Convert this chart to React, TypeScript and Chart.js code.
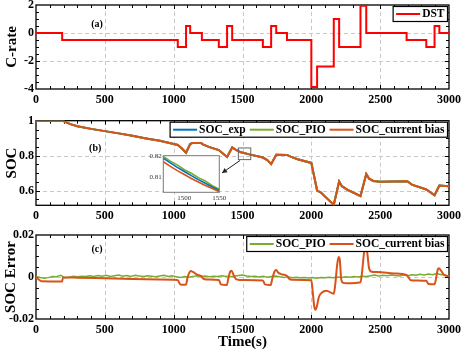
import React, { useEffect, useRef } from "react";
import { Chart, registerables } from "chart.js";
Chart.register(...registerables);

const FONT = '"Liberation Serif", "Times New Roman", Times, serif';
const RED = "#ff0000";
const BLUE = "#0072BD";
const GREEN = "#77AC30";
const ORANGE = "#D95319";

// ---------- tick labels ----------
const X_TICKS = [0, 500, 1000, 1500, 2000, 2500, 3000];
const X_GRID = [500, 1000, 1500, 2000, 2500];
const CRATE_TICKS = [-4, -2, 0, 2];
const SOC_TICKS = [0.6, 0.8, 1];
const ERR_TICKS = [-0.02, 0, 0.02];
const INSET_X_TICKS = [1500, 1550];
const INSET_Y_TICKS = [0.81, 0.82];

// ---------- (a) DST current profile (value holds from time until next time) ----------
const DST_T = [0, 190, 1030, 1090, 1120, 1205, 1328, 1388, 1425, 1648, 1708, 1745, 1823, 2000, 2042, 2163, 2202, 2357, 2399, 2692, 2835, 2895, 2930, 3000];
const DST_V = [0, -0.5, -1, 0.5, 0, -0.5, -1, 0.5, -0.5, -1, 0.5, 0, -0.5, -3.85, -2.4, 1, -1, 1.95, 0, -0.5, -1, 0.5, 0, 0];

// ---------- (b) SOC ----------
const SOC_T = [0, 200, 215, 250, 300, 400, 500, 600, 700, 800, 900, 1000, 1030, 1060, 1090, 1120, 1135, 1200, 1212, 1260, 1328, 1388, 1425, 1450, 1482, 1550, 1648, 1680, 1708, 1745, 1823, 1850, 1900, 2000, 2042, 2070, 2100, 2163, 2202, 2222, 2260, 2300, 2357, 2399, 2420, 2450, 2500, 2692, 2705, 2730, 2835, 2895, 2930, 3000];
const SOC_V = [1.0, 1.0, 0.994, 0.982, 0.970, 0.955, 0.942, 0.929, 0.915, 0.900, 0.886, 0.868, 0.862, 0.842, 0.818, 0.868, 0.873, 0.873, 0.866, 0.850, 0.833, 0.793, 0.848, 0.835, 0.822, 0.808, 0.790, 0.775, 0.752, 0.806, 0.805, 0.795, 0.780, 0.759, 0.600, 0.588, 0.565, 0.518, 0.652, 0.625, 0.605, 0.590, 0.568, 0.695, 0.668, 0.655, 0.650, 0.653, 0.650, 0.634, 0.606, 0.573, 0.629, 0.625];

// ---------- inset (zoom 1470-1550 s) ----------
const INSET_T = [1470, 1480, 1490, 1500, 1510, 1520, 1530, 1540, 1550];
const INSET_EXP = [0.8189, 0.8167, 0.8147, 0.8128, 0.8109, 0.8091, 0.8074, 0.8057, 0.8041];
const INSET_PIO = [0.8197, 0.8175, 0.8158, 0.8136, 0.8120, 0.8100, 0.8085, 0.8063, 0.8047];
const INSET_BIAS = [0.8173, 0.8151, 0.8132, 0.8114, 0.8096, 0.8080, 0.8064, 0.8050, 0.8036];
// zoom box & arrow annotation (data coordinates of panel b)
const ZOOM_BOX_X = [1470, 1560];
const ZOOM_BOX_Y = [0.778, 0.845];
const ARROW_FROM = [1482, 0.773];
const ARROW_TO = [1351, 0.701];

// ---------- (c) SOC error ----------
const ERR_BIAS_T = [0, 20, 40, 190, 196, 300, 500, 700, 1000, 1030, 1045, 1060, 1090, 1100, 1115, 1125, 1140, 1170, 1200, 1215, 1240, 1328, 1343, 1386, 1396, 1410, 1420, 1435, 1450, 1480, 1648, 1663, 1705, 1714, 1732, 1745, 1760, 1790, 1823, 1838, 1860, 2000, 2010, 2020, 2030, 2040, 2055, 2075, 2110, 2163, 2173, 2188, 2198, 2207, 2217, 2232, 2260, 2357, 2368, 2384, 2395, 2405, 2420, 2440, 2480, 2600, 2692, 2702, 2722, 2835, 2850, 2895, 2905, 2918, 2927, 2942, 2962, 3000];
const ERR_BIAS_V = [0, -0.0012, -0.0020, -0.0021, -0.0002, -0.0003, -0.0006, -0.0009, -0.0013, -0.0015, -0.0033, -0.0037, -0.0036, -0.0005, 0.0022, 0.0028, 0.0024, 0.0011, 0.0004, -0.0008, -0.0012, -0.0014, -0.0035, -0.0038, -0.0010, 0.0025, 0.0030, 0.0010, -0.0008, -0.0014, -0.0017, -0.0035, -0.0038, -0.0015, 0.0025, 0.0033, 0.0020, 0.0012, 0.0005, -0.0008, -0.0013, -0.0016, -0.0070, -0.0135, -0.0156, -0.0140, -0.0095, -0.0075, -0.0065, -0.0080, -0.0040, 0.0060, 0.0095, 0.0080, -0.0010, -0.0028, -0.0030, -0.0025, 0.0020, 0.0120, 0.0135, 0.0120, 0.0040, 0.0025, 0.0024, 0.0017, 0.0010, 0.0002, -0.0015, -0.0018, -0.0033, -0.0035, -0.0010, 0.0035, 0.0042, 0.0030, 0.0012, 0.0002];

const ERR_PIO_T = [0, 30, 60, 90, 120, 150, 180, 210, 240, 270, 300, 330, 360, 390, 420, 450, 480, 510, 540, 570, 600, 630, 660, 690, 720, 750, 780, 810, 840, 870, 900, 930, 960, 990, 1020, 1050, 1080, 1110, 1140, 1170, 1200, 1230, 1260, 1290, 1320, 1350, 1380, 1410, 1440, 1470, 1500, 1530, 1560, 1590, 1620, 1650, 1680, 1710, 1740, 1770, 1800, 1830, 1860, 1890, 1920, 1950, 1980, 2010, 2040, 2070, 2100, 2130, 2160, 2190, 2220, 2250, 2280, 2310, 2340, 2370, 2400, 2430, 2460, 2490, 2520, 2550, 2580, 2610, 2640, 2670, 2700, 2730, 2760, 2790, 2820, 2850, 2880, 2910, 2940, 2970, 3000];
const ERR_PIO_V = [0.0003, -0.0002, -0.0006, -0.0003, 0.0002, 0.0001, 0.0008, -0.0004, -0.0001, 0.0003, 0.0001, 0.0004, 0.0002, 0.0006, 0.0003, 0.0007, 0.0004, 0.0008, 0.0003, 0.0006, 0.0009, 0.0004, 0.0007, 0.0003, 0.0008, 0.0005, 0.0002, 0.0006, 0.0004, 0.0001, 0.0005, 0.0008, 0.0003, 0.0006, 0.0001, -0.0002, 0.0002, -0.0001, 0.0003, 0.0006, 0.0002, 0.0005, 0.0001, 0.0004, 0.0002, 0.0006, 0.0003, 0.0001, 0.0004, 0.0007, 0.0010, 0.0005, 0.0002, 0.0004, 0.0000, 0.0003, -0.0001, 0.0002, 0.0005, 0.0001, -0.0002, 0.0001, -0.0003, -0.0001, -0.0004, -0.0002, -0.0005, -0.0003, -0.0006, -0.0002, -0.0004, -0.0001, -0.0003, 0.0000, -0.0002, 0.0001, -0.0001, 0.0002, 0.0000, 0.0004, 0.0002, 0.0006, 0.0009, 0.0005, 0.0008, 0.0006, 0.0010, 0.0007, 0.0005, 0.0009, 0.0006, 0.0011, 0.0008, 0.0013, 0.0010, 0.0014, 0.0011, 0.0016, 0.0012, 0.0008, 0.0004];

const pts = (t: number[], v: number[]) => t.map((x, i) => ({ x, y: v[i] }));
const setTicks = (vals: number[]) => (s: any) => {
  s.ticks = vals.map((value) => ({ value }));
};

// ---------- custom MATLAB-like frame plugin ----------
const framePlugin = {
  id: "frame",
  beforeDatasetsDraw(chart: any, _a: any, o: any) {
    const { ctx, chartArea: a, scales } = chart;
    const x = scales.x, y = scales.y;
    ctx.save();
    if (o.bg) {
      ctx.fillStyle = o.bg;
      ctx.fillRect(a.left, a.top, a.right - a.left, a.bottom - a.top);
    }
    ctx.strokeStyle = "#c8c8c8";
    ctx.lineWidth = 1;
    ctx.setLineDash([4, 3]);
    (o.xGrid || []).forEach((v: number) => {
      const px = Math.round(x.getPixelForValue(v)) + 0.5;
      ctx.beginPath();
      ctx.moveTo(px, a.top);
      ctx.lineTo(px, a.bottom);
      ctx.stroke();
    });
    (o.yGrid || []).forEach((v: number) => {
      const py = Math.round(y.getPixelForValue(v)) + 0.5;
      ctx.beginPath();
      ctx.moveTo(a.left, py);
      ctx.lineTo(a.right, py);
      ctx.stroke();
    });
    ctx.setLineDash([]);
    // inward ticks
    ctx.strokeStyle = o.frameColor || "#000";
    ctx.lineWidth = 1;
    const drawTicks = (sc: any, minor: number, major: number, horiz: boolean) => {
      if (!minor) return;
      const first = Math.ceil(sc.min / minor - 1e-6);
      const last = Math.floor(sc.max / minor + 1e-6);
      for (let k = first; k <= last; k++) {
        const v = k * minor;
        const isMajor = Math.abs(v / major - Math.round(v / major)) < 1e-6;
        const len = isMajor ? o.majorLen : o.minorLen;
        const p = Math.round(sc.getPixelForValue(v)) + 0.5;
        ctx.beginPath();
        if (horiz) {
          if (p <= a.left + 1 || p >= a.right - 1) continue;
          ctx.moveTo(p, a.bottom); ctx.lineTo(p, a.bottom - len);
          ctx.moveTo(p, a.top); ctx.lineTo(p, a.top + len);
        } else {
          if (p <= a.top + 1 || p >= a.bottom - 1) continue;
          ctx.moveTo(a.left, p); ctx.lineTo(a.left + len, p);
          ctx.moveTo(a.right, p); ctx.lineTo(a.right - len, p);
        }
        ctx.stroke();
      }
    };
    drawTicks(x, o.xMinor, o.xMajor, true);
    drawTicks(y, o.yMinor, o.yMajor, false);
    // frame
    ctx.lineWidth = o.frameWidth || 1.3;
    ctx.strokeStyle = o.frameColor || "#000";
    ctx.strokeRect(a.left, a.top, a.right - a.left, a.bottom - a.top);
    ctx.restore();
  },
  afterDatasetsDraw(chart: any, _a: any, o: any) {
    const { ctx, chartArea: a, scales } = chart;
    const x = scales.x, y = scales.y;
    ctx.save();
    // zoom box + arrow
    if (o.zoomBox) {
      const x0 = x.getPixelForValue(o.zoomBox.x[0]);
      const x1 = x.getPixelForValue(o.zoomBox.x[1]);
      const y0 = y.getPixelForValue(o.zoomBox.y[0]);
      const y1 = y.getPixelForValue(o.zoomBox.y[1]);
      ctx.strokeStyle = "#666";
      ctx.lineWidth = 1;
      ctx.strokeRect(Math.min(x0, x1), Math.min(y0, y1), Math.abs(x1 - x0), Math.abs(y1 - y0));
    }
    if (o.arrow) {
      const fx = x.getPixelForValue(o.arrow.from[0]);
      const fy = y.getPixelForValue(o.arrow.from[1]);
      const tx = x.getPixelForValue(o.arrow.to[0]);
      const ty = y.getPixelForValue(o.arrow.to[1]);
      ctx.strokeStyle = "#222";
      ctx.fillStyle = "#222";
      ctx.lineWidth = 1;
      ctx.beginPath();
      ctx.moveTo(fx, fy);
      ctx.lineTo(tx, ty);
      ctx.stroke();
      const ang = Math.atan2(ty - fy, tx - fx);
      const L = 5, Wd = 2.5;
      ctx.beginPath();
      ctx.moveTo(tx, ty);
      ctx.lineTo(tx - L * Math.cos(ang) + Wd * Math.sin(ang), ty - L * Math.sin(ang) - Wd * Math.cos(ang));
      ctx.lineTo(tx - L * Math.cos(ang) - Wd * Math.sin(ang), ty - L * Math.sin(ang) + Wd * Math.cos(ang));
      ctx.closePath();
      ctx.fill();
    }
    // panel label
    if (o.panel) {
      ctx.fillStyle = "#000";
      ctx.font = `bold 10px ${FONT}`;
      ctx.textAlign = "center";
      ctx.textBaseline = "middle";
      ctx.fillText(o.panel.text, x.getPixelForValue(o.panel.x), y.getPixelForValue(o.panel.y));
    }
    // legend
    if (o.legend) {
      ctx.font = `bold 11.5px ${FONT}`;
      const items = o.legend as { label: string; color: string }[];
      const widths = items.map((it) => ctx.measureText(it.label).width);
      const lineLen = 24, gapLT = 2, gapItem = 4, padL = 3, padR = 3, h = 15;
      let total = padL + padR + gapItem * (items.length - 1);
      widths.forEach((w) => (total += lineLen + gapLT + w));
      const right = a.right - 1.5;
      const top = a.top + 1.5;
      const left = right - total;
      ctx.fillStyle = "#fff";
      ctx.fillRect(left, top, total, h);
      ctx.strokeStyle = "#000";
      ctx.lineWidth = 1.2;
      ctx.strokeRect(left, top, total, h);
      let cx = left + padL;
      const ym = top + h / 2;
      items.forEach((it, i) => {
        ctx.strokeStyle = it.color;
        ctx.lineWidth = 2;
        ctx.beginPath();
        ctx.moveTo(cx, ym);
        ctx.lineTo(cx + lineLen, ym);
        ctx.stroke();
        cx += lineLen + gapLT;
        ctx.fillStyle = "#000";
        ctx.textAlign = "left";
        ctx.textBaseline = "middle";
        ctx.fillText(it.label, cx, ym + 0.5);
        cx += widths[i] + gapItem;
      });
    }
    ctx.restore();
  },
};

type PanelCfg = {
  padTop: number;
  xH: number;
  xPad: number;
  yMin: number;
  yMax: number;
  yTicks: number[];
  yTitle: string;
  yTitlePad: number;
  xTitle?: string;
  frame: any;
};

function panelOptions(c: PanelCfg): any {
  const tickFont = { family: FONT, size: 12, weight: "bold" as const };
  return {
    responsive: false,
    animation: false,
    devicePixelRatio: 1,
    events: [],
    layout: { padding: { left: 0, right: 25, top: c.padTop, bottom: 0 } },
    plugins: { legend: { display: false }, tooltip: { enabled: false }, frame: c.frame },
    scales: {
      x: {
        type: "linear",
        min: 0,
        max: 3000,
        afterBuildTicks: setTicks(X_TICKS),
        afterFit: (s: any) => {
          s.height = c.xH;
          s.paddingLeft = 0;
          s.paddingRight = 0;
        },
        grid: { display: false, drawTicks: false },
        border: { display: false },
        ticks: { color: "#000", font: tickFont, padding: c.xPad, maxRotation: 0, autoSkip: false, callback: (v: any) => String(v) },
        title: c.xTitle
          ? { display: true, text: c.xTitle, color: "#000", font: { family: FONT, size: 15, weight: "bold" }, padding: { top: 0, bottom: 13 } }
          : { display: false },
      },
      y: {
        type: "linear",
        min: c.yMin,
        max: c.yMax,
        afterBuildTicks: setTicks(c.yTicks),
        afterFit: (s: any) => {
          s.width = 36;
          s.paddingTop = 0;
          s.paddingBottom = 0;
        },
        grid: { display: false, drawTicks: false },
        border: { display: false },
        ticks: { color: "#000", font: tickFont, padding: 2, autoSkip: false, callback: (v: any) => String(v) },
        title: { display: true, text: c.yTitle, color: "#000", font: { family: FONT, size: 15, weight: "bold" }, padding: { top: c.yTitlePad, bottom: 0 } },
      },
    },
  };
}

const lineDs = (label: string, data: any[], color: string, width: number, order: number, extra: any = {}) => ({
  label,
  data,
  borderColor: color,
  backgroundColor: color,
  borderWidth: width,
  pointRadius: 0,
  tension: 0,
  fill: false,
  order,
  ...extra,
});

export default function App() {
  const refA = useRef<HTMLCanvasElement>(null);
  const refB = useRef<HTMLCanvasElement>(null);
  const refI = useRef<HTMLCanvasElement>(null);
  const refC = useRef<HTMLCanvasElement>(null);

  useEffect(() => {
    const charts: Chart[] = [];
    charts.push(
      new Chart(refA.current!, {
        type: "line",
        data: { datasets: [lineDs("DST", pts(DST_T, DST_V), RED, 2, 1, { stepped: true })] },
        options: panelOptions({
          padTop: 5, xH: 21, xPad: 4, yMin: -4, yMax: 2, yTicks: CRATE_TICKS, yTitle: "C-rate", yTitlePad: 3.5,
          frame: { xGrid: X_GRID, yGrid: [0, -2], xMinor: 100, xMajor: 500, yMinor: 0.5, yMajor: 2, majorLen: 4, minorLen: 3,
            legend: [{ label: "DST", color: RED }], panel: { text: "(a)", x: 443, y: 0.6 } },
        }),
        plugins: [framePlugin as any],
      } as any)
    );
    charts.push(
      new Chart(refB.current!, {
        type: "line",
        data: {
          datasets: [
            lineDs("SOC_exp", pts(SOC_T, SOC_V), BLUE, 2, 3),
            lineDs("SOC_PIO", pts(SOC_T, SOC_V), GREEN, 2, 2),
            lineDs("SOC_current bias", pts(SOC_T, SOC_V), ORANGE, 2, 1),
          ],
        },
        options: panelOptions({
          padTop: 10.7, xH: 19.7, xPad: 3.5, yMin: 0.515, yMax: 1.002, yTicks: SOC_TICKS, yTitle: "SOC", yTitlePad: 3,
          frame: { xGrid: X_GRID, yGrid: [0.6, 0.8], xMinor: 100, xMajor: 500, yMinor: 0.05, yMajor: 0.2, majorLen: 4, minorLen: 3,
            legend: [
              { label: "SOC_exp", color: BLUE },
              { label: "SOC_PIO", color: GREEN },
              { label: "SOC_current bias", color: ORANGE },
            ],
            panel: { text: "(b)", x: 430, y: 0.845 },
            zoomBox: { x: ZOOM_BOX_X, y: ZOOM_BOX_Y },
            arrow: { from: ARROW_FROM, to: ARROW_TO } },
        }),
        plugins: [framePlugin as any],
      } as any)
    );
    const insetFont = { family: FONT, size: 7 };
    charts.push(
      new Chart(refI.current!, {
        type: "line",
        data: {
          datasets: [
            lineDs("SOC_exp", pts(INSET_T, INSET_EXP), BLUE, 1.6, 2),
            lineDs("SOC_PIO", pts(INSET_T, INSET_PIO), GREEN, 1.6, 3),
            lineDs("SOC_current bias", pts(INSET_T, INSET_BIAS), ORANGE, 1.6, 1),
          ],
        },
        options: {
          responsive: false,
          animation: false,
          devicePixelRatio: 1,
          events: [],
          layout: { padding: { left: 0, right: 10.7, top: 5.7, bottom: 0 } },
          plugins: { legend: { display: false }, tooltip: { enabled: false },
            frame: { bg: "#fff", frameColor: "#777", frameWidth: 1, xMinor: 0, yMinor: 0, majorLen: 0, minorLen: 0 } },
          scales: {
            x: {
              type: "linear", min: 1470, max: 1550,
              afterBuildTicks: setTicks(INSET_X_TICKS),
              afterFit: (s: any) => { s.height = 12.7; s.paddingLeft = 0; s.paddingRight = 0; },
              grid: { display: false, drawTicks: false }, border: { display: false },
              ticks: { color: "#333", font: insetFont, padding: 1.2, maxRotation: 0, autoSkip: false, callback: (v: any) => String(v) },
            },
            y: {
              type: "linear", min: 0.8033, max: 0.82,
              afterBuildTicks: setTicks(INSET_Y_TICKS),
              afterFit: (s: any) => { s.width = 23.3; s.paddingTop = 0; s.paddingBottom = 0; },
              grid: { display: false, drawTicks: false }, border: { display: false },
              ticks: { color: "#333", font: insetFont, padding: 1.5, autoSkip: false, callback: (v: any) => String(v) },
            },
          },
        },
        plugins: [framePlugin as any],
      } as any)
    );
    charts.push(
      new Chart(refC.current!, {
        type: "line",
        data: {
          datasets: [
            lineDs("SOC_PIO", pts(ERR_PIO_T, ERR_PIO_V), GREEN, 1.5, 2),
            lineDs("SOC_current bias", pts(ERR_BIAS_T, ERR_BIAS_V), ORANGE, 2, 1, { cubicInterpolationMode: "monotone" }),
          ],
        },
        options: panelOptions({
          padTop: 10, xH: 45, xPad: 3.8, yMin: -0.02, yMax: 0.02, yTicks: ERR_TICKS, yTitle: "SOC Error", yTitlePad: 2, xTitle: "Time(s)",
          frame: { xGrid: X_GRID, yGrid: [0], xMinor: 100, xMajor: 500, yMinor: 0.005, yMajor: 0.02, majorLen: 4, minorLen: 3,
            legend: [
              { label: "SOC_PIO", color: GREEN },
              { label: "SOC_current bias", color: ORANGE },
            ],
            panel: { text: "(c)", x: 443, y: 0.0132 } },
        }),
        plugins: [framePlugin as any],
      } as any)
    );
    return () => charts.forEach((c) => c.destroy());
  }, []);

  const abs = (left: number, top: number, w: number, h: number): React.CSSProperties => ({
    position: "absolute", left, top, width: w, height: h, display: "block",
  });

  return (
    <div style={{ position: "absolute", left: 0, top: 0, width: 474, height: 364, background: "#fff", overflow: "hidden" }}>
      <canvas ref={refA} width={474} height={110} style={abs(0, 0, 474, 110)} />
      <canvas ref={refB} width={474} height={115} style={abs(0, 110, 474, 115)} />
      <canvas ref={refC} width={474} height={139} style={abs(0, 225, 474, 139)} />
      <canvas ref={refI} width={90} height={55} style={abs(140, 150, 90, 55)} />
    </div>
  );
}
